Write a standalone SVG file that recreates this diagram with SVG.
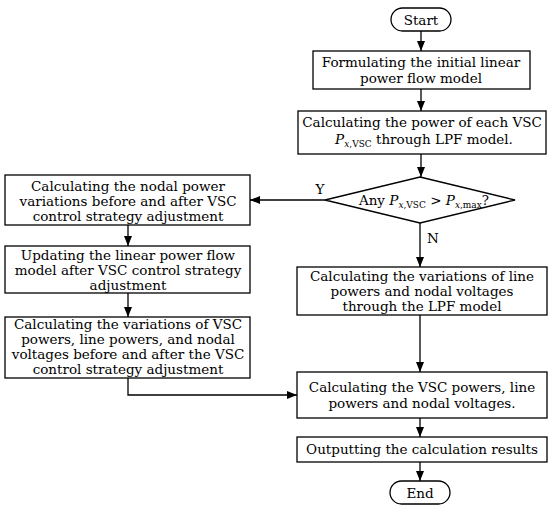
<svg xmlns="http://www.w3.org/2000/svg" width="550" height="509" viewBox="0 0 550 509">
<defs>
<marker id="arr" viewBox="0 0 10 8" refX="10" refY="4" markerWidth="10" markerHeight="8" markerUnits="userSpaceOnUse" orient="auto">
<path d="M0,0 L10,4 L0,8 Z" fill="#000"/>
</marker>
<style>
.b{fill:#fff;stroke:#000;stroke-width:1.3}
.t{font-family:"DejaVu Serif","Liberation Serif",serif;font-size:13.5px;fill:#000;text-anchor:middle}
.s{font-size:9px}
.i{font-style:italic}
.c{fill:none;stroke:#000;stroke-width:1.3}
</style>
</defs>
<rect width="550" height="509" fill="#fff"/>
<g id="connectors">
<path class="c" d="M421,31 V51" marker-end="url(#arr)"/>
<path class="c" d="M421,89 V111" marker-end="url(#arr)"/>
<path class="c" d="M421,154 V177" marker-end="url(#arr)"/>
<path class="c" d="M325,200 H250" marker-end="url(#arr)"/>
<path class="c" d="M420,223 V267" marker-end="url(#arr)"/>
<path class="c" d="M128,225 V246" marker-end="url(#arr)"/>
<path class="c" d="M128,293 V317" marker-end="url(#arr)"/>
<path class="c" d="M128,378 V395 H297" marker-end="url(#arr)"/>
<path class="c" d="M420,315 V372" marker-end="url(#arr)"/>
<path class="c" d="M420,418 V437" marker-end="url(#arr)"/>
<path class="c" d="M420,462 V481" marker-end="url(#arr)"/>
<text class="t" x="320" y="194">Y</text>
<text class="t" x="433" y="243">N</text>
</g>
<g id="start">
<rect class="b" x="391" y="8" width="60" height="23" rx="11.5"/>
<text class="t" x="421" y="24.5">Start</text>
</g>
<g id="formulate">
<rect class="b" x="313" y="51" width="217" height="38"/>
<text class="t" x="421" y="67">Formulating the initial linear</text>
<text class="t" x="421" y="83">power flow model</text>
</g>
<g id="calc-vsc">
<rect class="b" x="298" y="111" width="248" height="43"/>
<text class="t" x="422" y="127">Calculating the power of each VSC</text>
<text class="t" x="424" y="144"><tspan class="i">P</tspan><tspan class="s" dy="2.5"><tspan class="i">x</tspan>,VSC</tspan><tspan dy="-2.5"> through LPF model.</tspan></text>
</g>
<g id="decision">
<path class="b" d="M420,177 L515,200 L420,223 L325,200 Z"/>
<text class="t" x="424" y="205">Any <tspan class="i">P</tspan><tspan class="s" dy="2.5"><tspan class="i">x</tspan>,VSC</tspan><tspan dy="-2.5"> &gt; </tspan><tspan class="i">P</tspan><tspan class="s" dy="2.5"><tspan class="i">x</tspan>,max</tspan><tspan dy="-2.5">?</tspan></text>
</g>
<g id="nodal-var">
<rect class="b" x="5" y="175" width="245" height="50"/>
<text class="t" x="128" y="191">Calculating the nodal power</text>
<text class="t" x="128" y="206">variations before and after VSC</text>
<text class="t" x="128" y="221">control strategy adjustment</text>
</g>
<g id="update-lpf">
<rect class="b" x="5" y="246" width="245" height="47"/>
<text class="t" x="128" y="260">Updating the linear power flow</text>
<text class="t" x="128" y="275">model after VSC control strategy</text>
<text class="t" x="128" y="290">adjustment</text>
</g>
<g id="calc-var-vsc">
<rect class="b" x="5" y="317" width="245" height="61"/>
<text class="t" x="128" y="329">Calculating the variations of VSC</text>
<text class="t" x="128" y="344">powers, line powers, and nodal</text>
<text class="t" x="128" y="359">voltages before and after the VSC</text>
<text class="t" x="128" y="374">control strategy adjustment</text>
</g>
<g id="calc-var-line">
<rect class="b" x="297" y="267" width="250" height="48"/>
<text class="t" x="422" y="281">Calculating the variations of line</text>
<text class="t" x="422" y="296">powers and nodal voltages</text>
<text class="t" x="422" y="311">through the LPF model</text>
</g>
<g id="calc-final">
<rect class="b" x="297" y="372" width="250" height="46"/>
<text class="t" x="422" y="392">Calculating the VSC powers, line</text>
<text class="t" x="422" y="408">powers and nodal voltages.</text>
</g>
<g id="output">
<rect class="b" x="297" y="437" width="250" height="25"/>
<text class="t" x="422" y="454">Outputting the calculation results</text>
</g>
<g id="end">
<rect class="b" x="390" y="481" width="60" height="23" rx="11.5"/>
<text class="t" x="420" y="497.5">End</text>
</g>
</svg>
